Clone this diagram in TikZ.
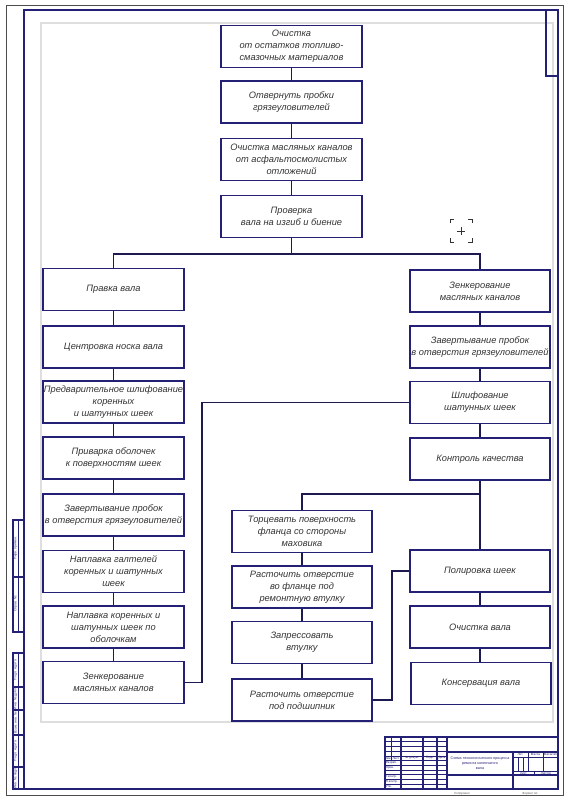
\documentclass[tikz,border=0pt]{standalone}
\usepackage{fontspec}
\setmainfont{Liberation Sans}
\definecolor{frameblue}{RGB}{36,32,118}
\definecolor{linkblue}{RGB}{28,26,80}
\definecolor{viewgray}{RGB}{222,222,222}
\begin{document}
\begin{tikzpicture}[x=0.025cm, y=-0.025cm,
		opbox/.style={draw=frameblue, line width=1.4pt, minimum width=3.52cm, minimum height=1.05cm, inner sep=0pt, align=center, text=black!80, font=\fontsize{6.6}{8.5}\selectfont\itshape},
		link/.style={draw=linkblue, line width=1pt},
		stamp/.style={rotate=90, font=\fontsize{2.4}{3}\selectfont, inner sep=0pt, text=frameblue},
		tiny/.style={font=\fontsize{2.2}{2.6}\selectfont, inner sep=0pt, text=frameblue}]
	\useasboundingbox (0,0) rectangle (571,800);
	% sheet
	\draw [black!70, line width=0.5pt] (6,5) rectangle (563,795);
	\draw [viewgray, line width=1pt] (41,23) rectangle (553,722);
	\draw [frameblue, line width=1.4pt] (24,10) rectangle (558,789);
	\draw [frameblue, line width=1.2pt] (546,10) rectangle (558,76);
	
	% upper chain
	\node [opbox] (t1) at (291.5,46.5) {Очистка\\от остатков топливо-\\смазочных материалов};
	\node [opbox] (t2) at (291.5,102) {Отвернуть пробки\\грязеуловителей};
	\node [opbox] (t3) at (291.5,159.5) {Очистка масляных каналов\\от асфальтосмолистых\\отложений};
	\node [opbox] (t4) at (291.5,216.5) {Проверка\\вала на изгиб и биение};
	
	% left branch
	\node [opbox] (l1) at (113.5,289.5) {Правка вала};
	\node [opbox] (l2) at (113.5,347) {Центровка носка вала};
	\node [opbox] (l3) at (113.5,402) {Предварительное шлифование\\коренных\\и шатунных шеек};
	\node [opbox] (l4) at (113.5,458) {Приварка оболочек\\к поверхностям шеек};
	\node [opbox] (l5) at (113.5,515) {Завертывание пробок\\в отверстия грязеуловителей};
	\node [opbox] (l6) at (113.5,571.5) {Наплавка галтелей\\коренных и шатунных\\шеек};
	\node [opbox] (l7) at (113.5,627) {Наплавка коренных и\\шатунных шеек по\\оболочкам};
	\node [opbox] (l8) at (113.5,682.5) {Зенкерование\\масляных каналов};
	
	% right branch
	\node [opbox] (r1) at (480,291) {Зенкерование\\масляных каналов};
	\node [opbox] (r2) at (480,347) {Завертывание пробок\\в отверстия грязеуловителей};
	\node [opbox] (r3) at (480,402.5) {Шлифование\\шатунных шеек};
	\node [opbox] (r4) at (480,459) {Контроль качества};
	\node [opbox] (r5) at (480,571) {Полировка шеек};
	\node [opbox] (r6) at (480,627) {Очистка вала};
	\node [opbox] (r7) at (481,683.5) {Консервация вала};
	
	% middle branch
	\node [opbox] (m1) at (302,531.5) {Торцевать поверхность\\фланца со стороны\\маховика};
	\node [opbox] (m2) at (302,587) {Расточить отверстие\\во фланце под\\ремонтную втулку};
	\node [opbox] (m3) at (302,642.5) {Запрессовать\\втулку};
	\node [opbox] (m4) at (302,700) {Расточить отверстие\\под подшипник};
	
	\coordinate (bus) at (291.5,254);
	\coordinate (ka) at (202,400);
	\coordinate (split) at (480,494);
	\coordinate (kb) at (392,571);
	
	\draw [link] (t1.south) -- (t2.north);
	\draw [link] (t2.south) -- (t3.north);
	\draw [link] (t3.south) -- (t4.north);
	\draw [link] (t4.south) -- (bus);
	\draw [link] (l1.north) |- (bus) -| (r1.north);
	
	\draw [link] (l1.south) -- (l2.north);
	\draw [link] (l2.south) -- (l3.north);
	\draw [link] (l3.south) -- (l4.north);
	\draw [link] (l4.south) -- (l5.north);
	\draw [link] (l5.south) -- (l6.north);
	\draw [link] (l6.south) -- (l7.north);
	\draw [link] (l7.south) -- (l8.north);
	\draw [link] (l8.east) -| (ka |- r3.west) -- (r3.west);
	
	\draw [link] (r1.south) -- (r2.north);
	\draw [link] (r2.south) -- (r3.north);
	\draw [link] (r3.south) -- (r4.north);
	\draw [link] (r4.south) -- (r5.north);
	\draw [link] (split) -| (m1.north);
	\draw [link] (r5.south) -- (r6.north);
	\draw [link] (r6.south) -- (r6.south |- r7.north);
	
	\draw [link] (m1.south) -- (m2.north);
	\draw [link] (m2.south) -- (m3.north);
	\draw [link] (m3.south) -- (m4.north);
	\draw [link] (m4.east) -| (kb |- r5.west) -- (r5.west);
	
	% cursor
	\draw [black!80, line width=0.5pt] (450,223) -- (450,219) -- (454,219) (468,219) -- (472,219) -- (472,223)
		(450,238) -- (450,242) -- (454,242) (468,242) -- (472,242) -- (472,238)
		(457,231) -- (465,231) (461,227) -- (461,235);
	
	% left stamps
	\draw [frameblue, line width=1pt] (13,520) rectangle (24,632) (13,577) -- (24,577);
	\draw [frameblue, line width=0.5pt] (18,520) -- (18,632);
	\draw [frameblue, line width=1pt] (13,653) rectangle (24,789) (13,687) -- (24,687) (13,710) -- (24,710) (13,735) -- (24,735) (13,767) -- (24,767);
	\draw [frameblue, line width=0.5pt] (18,653) -- (18,789);
	\node [stamp] (s1) at (15.5,548) {Перв. примен.};
	\node [stamp] (s2) at (15.5,604) {Справ. №};
	\node [stamp] (s3) at (15.5,670) {Подп. и дата};
	\node [stamp] (s4) at (15.5,698.5) {Инв. № дубл.};
	\node [stamp] (s5) at (15.5,722.5) {Взам. инв. №};
	\node [stamp] (s6) at (15.5,751) {Подп. и дата};
	\node [stamp] (s7) at (15.5,778) {Инв. № подл.};
	
	% title block
	\draw [frameblue, line width=1.2pt] (385,737) rectangle (558,789) (447,737) -- (447,789)
		(391.5,737) -- (391.5,760.6) (401,737) -- (401,789) (423,737) -- (423,789) (437,737) -- (437,789)
		(385,760.6) -- (447,760.6) (447,752) -- (558,752) (447,775) -- (558,775) (513,752) -- (513,789);
	\draw [frameblue, line width=0.5pt] (385,741.7) -- (447,741.7) (385,746.5) -- (447,746.5) (385,751.2) -- (447,751.2)
		(385,755.9) -- (447,755.9) (385,765.4) -- (447,765.4) (385,770.1) -- (447,770.1) (385,774.8) -- (447,774.8)
		(385,779.5) -- (447,779.5) (385,784.3) -- (447,784.3)
		(513,757) -- (558,757) (513,771) -- (558,771) (518,757) -- (518,771) (523,757) -- (523,771)
		(528,752) -- (528,771) (543,752) -- (543,771) (534,771) -- (534,775);
	\node [tiny] (h1) at (388,758.2) {Изм.};
	\node [tiny] (h2) at (396,758.2) {Лист};
	\node [tiny] (h3) at (412,758.2) {№ докум.};
	\node [tiny] (h4) at (430,758.2) {Подп.};
	\node [tiny] (h5) at (442,758.2) {Дата};
	\node [tiny, anchor=west] (p1) at (385.5,763) {Разраб.};
	\node [tiny, anchor=west] (p2) at (385.5,767.7) {Пров.};
	\node [tiny, anchor=west] (p3) at (385.5,777.1) {Т.контр.};
	\node [tiny, anchor=west] (p4) at (385.5,781.9) {Н.контр.};
	\node [tiny, anchor=west] (p5) at (385.5,786.6) {Утв.};
	\node [tiny] (q1) at (520.5,754.5) {Лит.};
	\node [tiny] (q2) at (535.5,754.5) {Масса};
	\node [tiny] (q3) at (550.5,754.5) {Масштаб};
	\node [tiny] (q4) at (523.5,773) {Лист};
	\node [tiny] (q5) at (546,773) {Листов};
	\node [tiny, align=center, font=\fontsize{2.6}{3.6}\selectfont] (title) at (480,763.5) {Схема технологического процесса\\ремонта коленчатого\\вала};
	\node [tiny, text=black!60] (copy) at (462,794) {Копировал};
	\node [tiny, text=black!60] (fmt) at (530,794) {Формат А1};
\end{tikzpicture}
\end{document}
